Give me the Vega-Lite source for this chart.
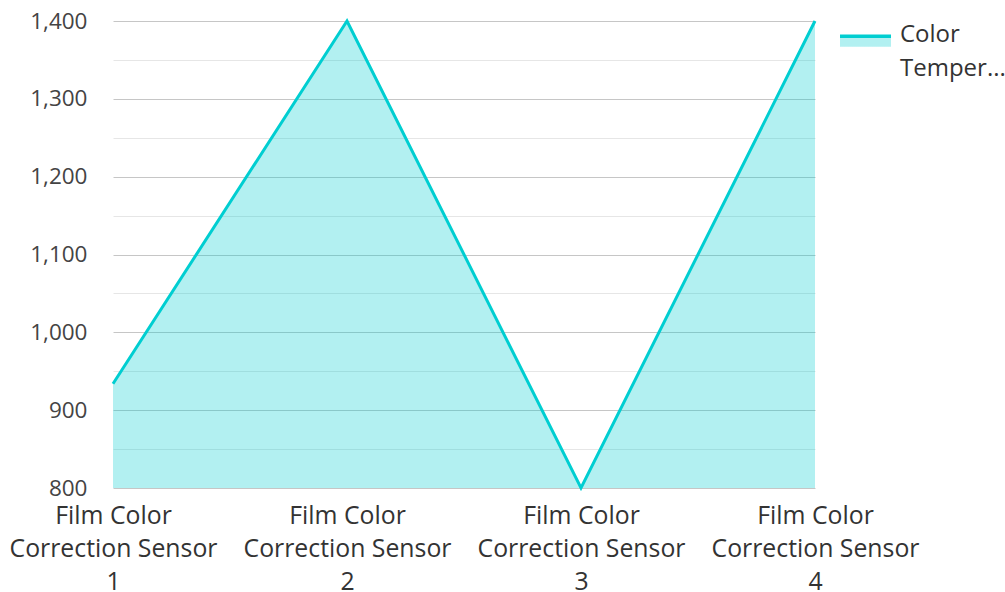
{
  "$schema": "https://vega.github.io/schema/vega-lite/v6.json",
  "autosize": "none",
  "width": 702,
  "height": 467,
  "padding": {"left": 113, "top": 21, "right": 190, "bottom": 104},
  "background": "white",
  "config": {
    "font": "Open Sans",
    "view": {"stroke": null}
  },
  "data": {
    "values": [
      {"sensor": "Film Color Correction Sensor 1", "series": "Color Temperature", "value": 934},
      {"sensor": "Film Color Correction Sensor 2", "series": "Color Temperature", "value": 1400},
      {"sensor": "Film Color Correction Sensor 3", "series": "Color Temperature", "value": 800},
      {"sensor": "Film Color Correction Sensor 4", "series": "Color Temperature", "value": 1400}
    ]
  },
  "encoding": {
    "x": {
      "field": "sensor",
      "type": "nominal",
      "sort": null,
      "scale": {"type": "point", "padding": 0},
      "axis": {
        "title": null,
        "labelAngle": 0,
        "domain": false,
        "ticks": false,
        "grid": false,
        "labelFontSize": 24.8,
        "labelColor": "#333333",
        "labelPadding": 15,
        "labelLineHeight": 33,
        "labelLimit": 0,
        "labelExpr": "[slice(datum.label,0,10), slice(datum.label,11,28), slice(datum.label,29)]"
      }
    },
    "y": {
      "field": "value",
      "type": "quantitative",
      "scale": {"domain": [800, 1400], "nice": false, "zero": false},
      "axis": {
        "title": null,
        "domain": false,
        "ticks": false,
        "values": [800, 850, 900, 950, 1000, 1050, 1100, 1150, 1200, 1250, 1300, 1350, 1400],
        "labelExpr": "datum.value % 100 === 0 ? format(datum.value, ',') : ''",
        "labelFontSize": 22.5,
        "labelColor": "#444444",
        "labelPadding": 26,
        "gridColor": {"condition": {"test": "datum.value % 100 === 0", "value": "#c6c6c6"}, "value": "#e6e6e6"},
        "gridWidth": 1
      }
    }
  },
  "layer": [
    {
      "mark": {"type": "area", "color": "#00CED1", "opacity": 0.3},
      "encoding": {"y2": {"datum": 800}}
    },
    {
      "mark": {"type": "line", "strokeWidth": 3},
      "encoding": {
        "color": {
          "field": "series",
          "type": "nominal",
          "scale": {"range": ["#00CED1"]},
          "legend": {
            "title": null,
            "orient": "none",
            "legendX": 727,
            "legendY": -12,
            "labelFontSize": 24,
            "labelColor": "#333333",
            "labelLimit": 0,
            "labelOffset": 9,
            "symbolType": "M-1,0L1,0L1,0.48L-1,0.48Z",
            "symbolSize": 2600,
            "symbolStrokeWidth": 0,
            "labelExpr": "[slice(datum.label,0,5), slice(datum.label,6,12) + '...']",
            "encode": {
              "labels": {"update": {"lineHeight": {"value": 34}}},
              "symbols": {
                "update": {
                  "fill": {"value": {"gradient": "linear", "x1": 0, "y1": 0, "x2": 0, "y2": 1, "stops": [
                    {"offset": 0, "color": "#00CED1"},
                    {"offset": 0.25, "color": "#00CED1"},
                    {"offset": 0.25, "color": "#B2F0F1"},
                    {"offset": 1, "color": "#B2F0F1"}
                  ]}},
                  "stroke": {"value": "transparent"},
                  "opacity": {"value": 1}
                }
              }
            }
          }
        }
      }
    }
  ]
}
